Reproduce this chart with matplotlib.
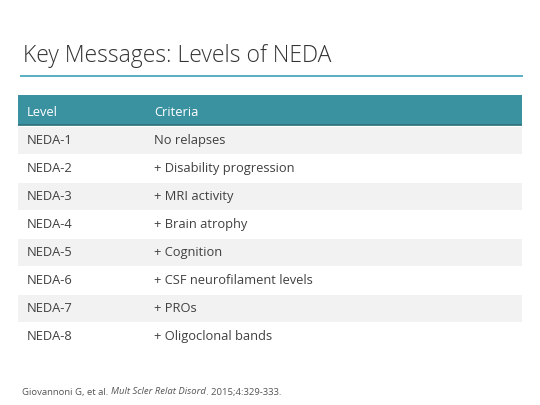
import matplotlib
matplotlib.use("Agg")
import matplotlib.pyplot as plt
from matplotlib.patches import Rectangle

title = "Key Messages: Levels of NEDA"
headers = ["Level", "Criteria"]
levels = ["NEDA-1", "NEDA-2", "NEDA-3", "NEDA-4", "NEDA-5", "NEDA-6", "NEDA-7", "NEDA-8"]
criteria = ["No relapses", "+ Disability progression", "+ MRI activity", "+ Brain atrophy",
            "+ Cognition", "+ CSF neurofilament levels", "+ PROs", "+ Oligoclonal bands"]

W, H = 540, 405
fig = plt.figure(figsize=(5.4, 4.05), dpi=100)
ax = fig.add_axes([0, 0, 1, 1])
ax.set_xlim(0, W)
ax.set_ylim(H, 0)
ax.axis("off")

font = "Open Sans"
txt = "#404040"

ax.text(23, 56, title, fontsize=16.5, family=font, color="#333333", va="center", ha="left",
        fontweight="light")
ax.plot([20, 523], [76, 76], color="#4aa8bd", lw=1.3, solid_capstyle="butt")

# header
ax.add_patch(Rectangle((18, 95), 504, 30, facecolor="#3a92a1", edgecolor="none"))
ax.plot([18, 522], [125, 125], color="#2c6f7a", lw=1.2, solid_capstyle="butt")
col_x = [27, 154]
fs = 9.3
for x, h in zip(col_x, headers):
    ax.text(x, 113, h, fontsize=fs, family=font, color="white", va="center", ha="left")

row_top = 126.5
row_h = 28
for i, (lv, cr) in enumerate(zip(levels, criteria)):
    y0 = row_top + i * row_h
    if i % 2 == 0:
        ax.add_patch(Rectangle((18, y0), 504, row_h - 1, facecolor="#f2f2f2", edgecolor="none"))
    yc = y0 + row_h / 2
    ax.text(col_x[0], yc, lv, fontsize=fs, family=font, color=txt, va="center", ha="left")
    ax.text(col_x[1], yc, cr, fontsize=fs, family=font, color=txt, va="center", ha="left")

fn = 6.8
ax.text(22, 392, "Giovannoni G, et al. ", fontsize=fn, family=font, color="#555555", va="center")
fig.canvas.draw()
r = fig.canvas.get_renderer()
t1 = ax.texts[-1]
bb = t1.get_window_extent(r)
x2 = ax.transData.inverted().transform((bb.x1, 0))[0]
t2 = ax.text(x2, 392, "Mult Scler Relat Disord", fontsize=fn, family=font, color="#555555",
             va="center", style="italic")
bb2 = t2.get_window_extent(r)
x3 = ax.transData.inverted().transform((bb2.x1, 0))[0]
ax.text(x3, 392, ". 2015;4:329-333.", fontsize=fn, family=font, color="#555555", va="center")

fig.savefig("out.png", dpi=100)
